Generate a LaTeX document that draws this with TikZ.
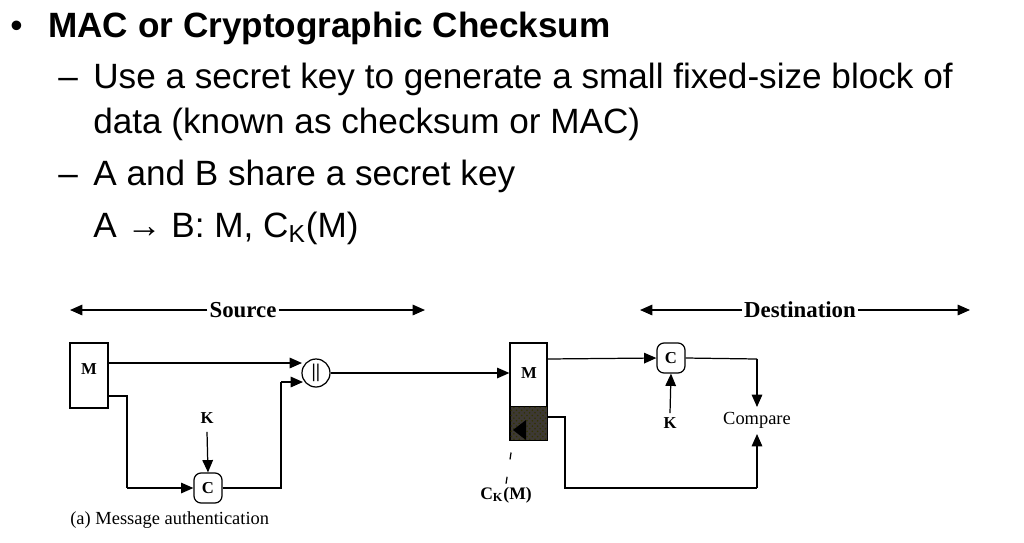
\documentclass[tikz,border=0pt]{standalone}
\usepackage{fontspec}
\setmainfont{Liberation Serif}
\newfontfamily\sans{Liberation Sans}
\usetikzlibrary{arrows.meta,patterns}
\begin{document}
\begin{tikzpicture}[x=0.02cm,y=-0.02cm,
  ln/.style={line width=0.7pt},
  ar/.style={ln,-{Triangle[length=7pt,width=6pt]}},
  body/.style={anchor=base west,font=\sans\fontsize{20}{24}\selectfont,inner sep=0},
  lab/.style={font=\bfseries\fontsize{9.5}{11}\selectfont,inner sep=0}]
\useasboundingbox (0,0) rectangle (1024,542);
\node[body] (b0) at (10,37) {•};
\node[body,font=\sans\bfseries\fontsize{20}{24}\selectfont] (t0) at (48,37) {MAC or Cryptographic Checksum};
\node[body] (t1) at (58,88) {–};
\node[body] (t1b) at (93,88) {Use a secret key to generate a small fixed-size block of};
\node[body] (t2) at (93,133) {data (known as checksum or MAC)};
\node[body] (t3) at (58,185) {–};
\node[body] (t3b) at (93,185) {A and B share a secret key};
\node[body] (t4) at (93,237) {A → B: M, C\textsubscript{K}(M)};
% headers
\node[font=\bfseries\fontsize{13}{15}\selectfont,inner sep=1pt] (src) at (243,310) {Source};
\draw[ar] (src.west) -- (src.west -| 70,0);
\draw[ar] (src.east) -- (src.east -| 425,0);
\node[font=\bfseries\fontsize{13}{15}\selectfont,inner sep=1pt] (dst) at (800,310) {Destination};
\draw[ar] (dst.west) -- (dst.west -| 640,0);
\draw[ar] (dst.east) -- (dst.east -| 970,0);
% source
\node[draw,ln,minimum width=38*0.02cm,minimum height=65*0.02cm,inner sep=0] (m1) at (89,375.5) {};
\node[lab] (m1t) at (89,369) {M};
\node[draw,ln,circle,minimum size=28*0.02cm,inner sep=0] (cat) at (316,373) {};
\node[lab,font=\bfseries\fontsize{11}{12}\selectfont] (cat t) at (316,373) {||};
\node[draw,ln,rounded corners=4pt,minimum width=28*0.02cm,minimum height=30*0.02cm,inner sep=0,lab] (c1) at (208,488) {C};
\node[lab] (k1) at (207,418) {K};
\draw[ar] (k1.south) ++(0,8) -- (c1.north);
\draw[ar] (108,363) -- (302,363);
\draw[ln] (108,396) -- (127,396) -- (127,488);
\draw[ar] (127,488) -- (c1.west);
\draw[ln] (c1.east) -- (281,488) -- (281,382);
\draw[ar] (281,382) -- (303,382);
% received box
\node[draw,ln,minimum width=37*0.02cm,minimum height=97*0.02cm,inner sep=0] (m2) at (528.5,391.5) {};
\fill[black!80!yellow!60!black,draw=black] (510,406) rectangle (547,440);
\fill[pattern=crosshatch dots,pattern color=black!50!yellow!40!black] (510,406) rectangle (547,440);
\node[lab] (m2t) at (529,373) {M};
\draw[ar] (cat.east) -- (m2.west|-cat.east);
\fill (513,430) -- (526,420) -- (526,440) -- cycle;
\node[font=\bfseries\fontsize{10}{11}\selectfont,inner sep=0] (ck) at (506,495) {C\textsubscript{K}(M)};
\draw[ln,dash pattern=on 4pt off 10pt] (ck.north) ++(0,-3) -- (512,447);
% destination
\node[draw,ln,rounded corners=4pt,minimum width=28*0.02cm,minimum height=30*0.02cm,inner sep=0,lab] (c2) at (671,358) {C};
\node[lab] (k2) at (670,423) {K};
\node[font=\fontsize{10.5}{12}\selectfont,inner sep=0] (cmp) at (757,420) {Compare};
\draw[ar] (547,359) -- (c2.west);
\draw[ar] (k2.north) ++(0,-4) -- (c2.south);
\draw[ln] (c2.east) -- (757,359);
\draw[ar] (757,359) -- (757,407);
\draw[ln] (547,417) -- (565,417) -- (565,488) -- (757,488);
\draw[ar] (757,488) -- (757,434);
\node[anchor=west,font=\fontsize{10.5}{12}\selectfont,inner sep=0] (cap) at (70,520) {(a) Message authentication};
\end{tikzpicture}
\end{document}
